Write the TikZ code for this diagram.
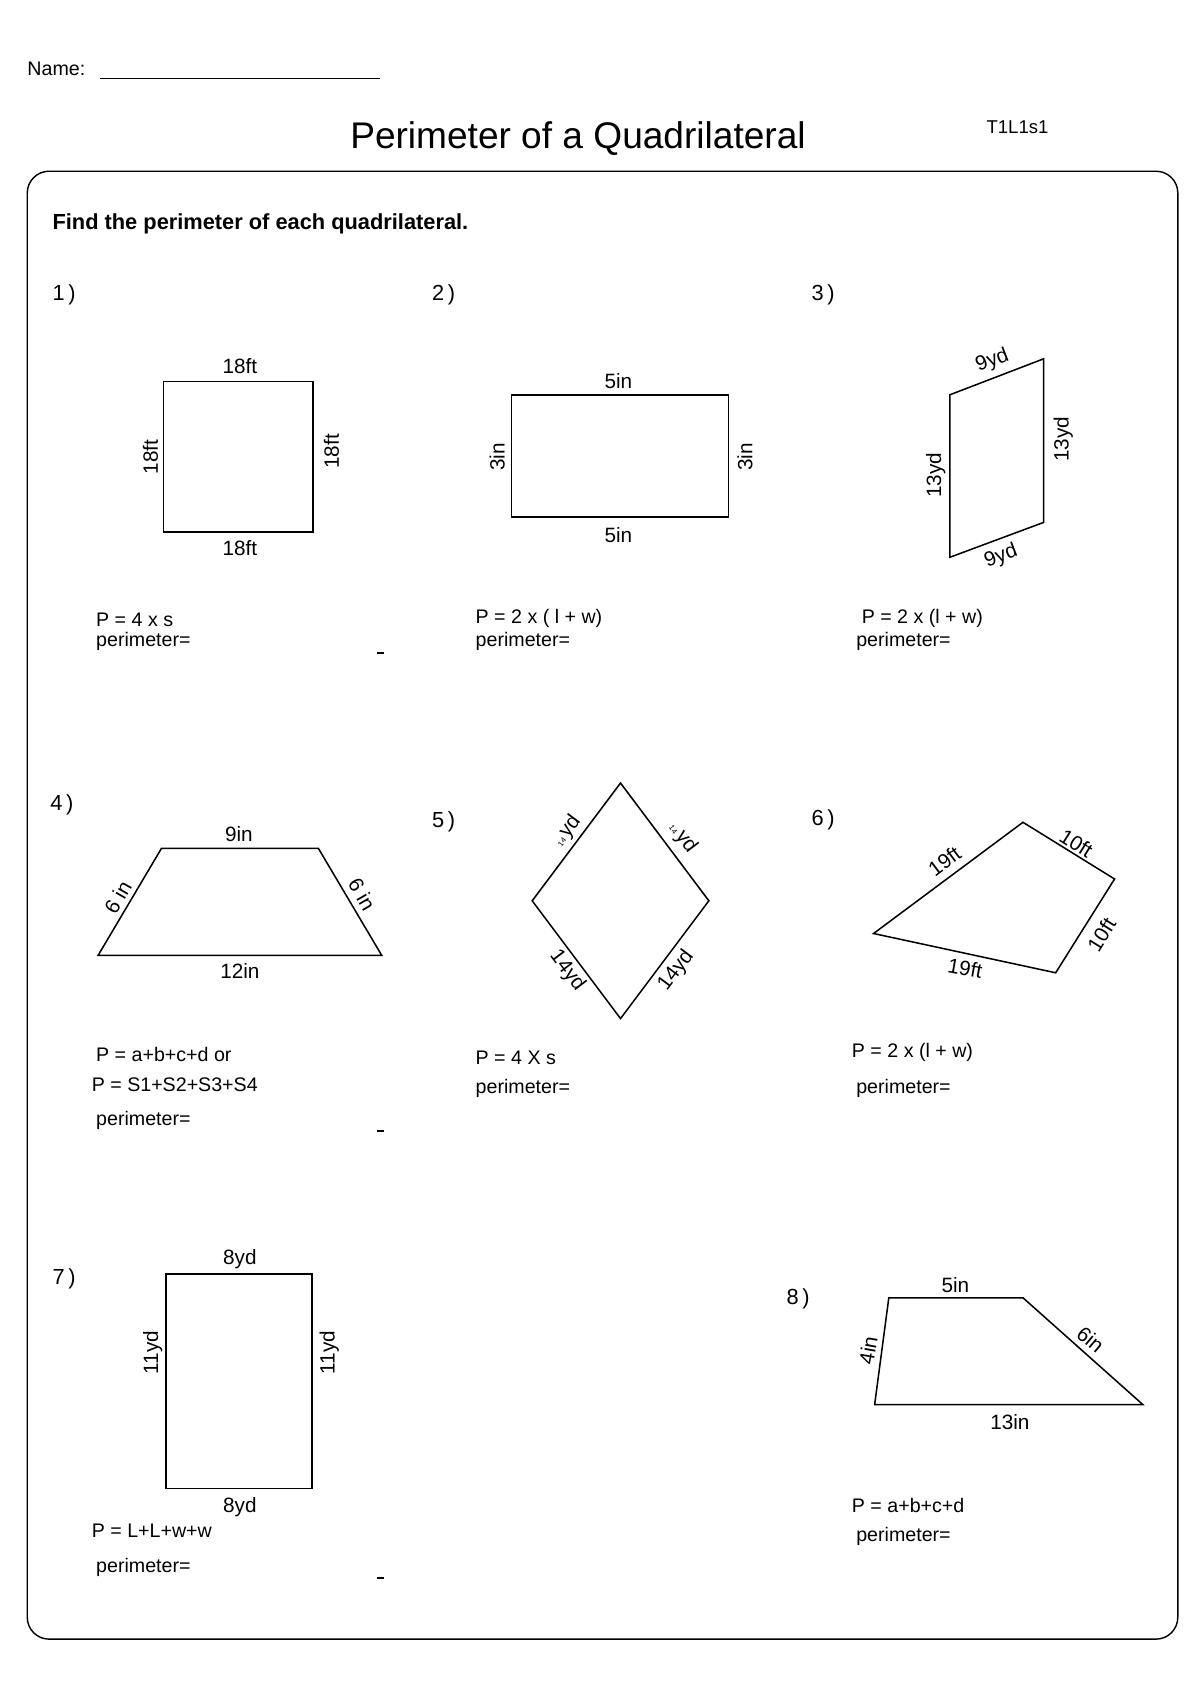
\documentclass[tikz,border=0pt]{standalone}
\usepackage{fontspec}
\setmainfont{Liberation Sans}
\begin{document}
\begin{tikzpicture}[x=1pt,y=-1pt,
 lab/.style={font=\fontsize{19}{21}\selectfont,inner sep=0pt},
 frm/.style={font=\fontsize{18}{20}\selectfont,anchor=west,inner sep=0pt},
 num/.style={font=\fontsize{20}{22}\selectfont,anchor=west,inner sep=0pt},
 shp/.style={line width=1.4pt}]
\useasboundingbox (0,0) rectangle (1100,1557);
\node[frm,anchor=west] (name) at (25,63) {Name:};
\draw[line width=1.4pt] (92,72) -- (348,72);
\node[font=\fontsize{34}{36}\selectfont] (title) at (530,127) {Perimeter of a Quadrilateral};
\node[font=\fontsize{17}{19}\selectfont] (code) at (933,117) {T1L1s1};
\draw[line width=1.3pt,rounded corners=20pt] (25,157) rectangle (1080,1503);
\node[font=\bfseries\fontsize{20}{22}\selectfont,anchor=west,inner sep=0pt] (inst) at (48,205) {Find the perimeter of each quadrilateral.};
\foreach \t/\x/\y in {1/48/270,2/396/270,3/744/270,4/46/738,5/396/754,6/744/752,7/48/1173,8/721/1191}
  \node[num] (n\t) at (\x,\y) {\t\,)};
% 1
\draw[shp] (150,350) rectangle (287,488);
\node[lab] (a1) at (220,336) {18ft};
\node[lab] (a2) at (220,503) {18ft};
\node[lab,rotate=90] (a3) at (138,419) {18ft};
\node[lab,rotate=90] (a4) at (304,414) {18ft};
% 2
\draw[shp] (469,362) rectangle (668,474);
\node[lab] (b1) at (567,349) {5in};
\node[lab] (b2) at (567,491) {5in};
\node[lab,rotate=90] (b3) at (456,419) {3in};
\node[lab,rotate=90] (b4) at (683,419) {3in};
% 3
\draw[shp] (871,362) -- (957,329) -- (957,479) -- (871,511) -- cycle;
\node[lab,rotate=21] (c1) at (910,331) {9yd};
\node[lab,rotate=21] (c2) at (918,510) {9yd};
\node[lab,rotate=90] (c3) at (858,436) {13yd};
\node[lab,rotate=90] (c4) at (975,403) {13yd};
% 4
\draw[shp] (90,876) -- (148,778) -- (292,778) -- (350,876) -- cycle;
\node[lab] (d1) at (219,765) {9in};
\node[lab] (d2) at (220,890) {12in};
\node[lab,rotate=60] (d3) at (108,823) {6 in};
\node[lab,rotate=-60] (d4) at (332,820) {6 in};
% 5
\draw[shp] (569,718) -- (650,826) -- (569,934) -- (488,826) -- cycle;
\node[lab,rotate=53] (e1) at (520,762) {\fontsize{7}{8}\selectfont 14 \fontsize{19}{21}\selectfont yd};
\node[lab,rotate=-53] (e2) at (626,768) {\fontsize{7}{8}\selectfont 14 \fontsize{19}{21}\selectfont yd};
\node[lab,rotate=-53] (e3) at (520,890) {14yd};
\node[lab,rotate=53] (e4) at (620,890) {14yd};
% 6
\draw[shp] (801,856) -- (938,754) -- (1022,806) -- (968,892) -- cycle;
\node[lab,rotate=37] (f1) at (866,790) {19ft};
\node[lab,rotate=-32] (f2) at (987,773) {10ft};
\node[lab,rotate=58] (f3) at (1010,857) {10ft};
\node[lab,rotate=-10] (f4) at (885,888) {19ft};
% 7
\draw[shp] (152,1168) rectangle (286,1365);
\node[lab] (g1) at (220,1155) {8yd};
\node[lab] (g2) at (220,1382) {8yd};
\node[lab,rotate=90] (g3) at (140,1240) {11yd};
\node[lab,rotate=90] (g4) at (302,1240) {11yd};
% 8
\draw[shp] (802,1288) -- (815,1190) -- (938,1190) -- (1048,1288) -- cycle;
\node[lab] (h1) at (876,1178) {5in};
\node[lab,rotate=-40] (h2) at (1000,1228) {6in};
\node[lab,rotate=80] (h3) at (796,1238) {4in};
\node[lab] (h4) at (926,1304) {13in};
% formulas
\node[frm] (p1) at (88,568) {P = 4 x s};
\node[frm] (q1) at (88,588) {perimeter=};
\node[frm] (p2) at (436,567) {P = 2 x ( l + w)};
\node[frm] (q2) at (436,588) {perimeter=};
\node[frm] (p3) at (790,567) {P = 2 x (l + w)};
\node[frm] (q3) at (785,588) {perimeter=};
\node[frm] (p4) at (88,967) {P = a+b+c+d or};
\node[frm] (p4b) at (84,995) {P = S1+S2+S3+S4};
\node[frm] (q4) at (88,1027) {perimeter=};
\node[frm] (p5) at (436,970) {P = 4 X s};
\node[frm] (q5) at (436,998) {perimeter=};
\node[frm] (p6) at (781,965) {P = 2 x (l + w)};
\node[frm] (q6) at (785,998) {perimeter=};
\node[frm] (p7) at (84,1404) {P = L+L+w+w};
\node[frm] (q7) at (88,1437) {perimeter=};
\node[frm] (p8) at (781,1380) {P = a+b+c+d};
\node[frm] (q8) at (785,1409) {perimeter=};
\foreach \y in {599,1037,1447} \draw[line width=1.6pt] (346,\y) -- (352,\y);
\end{tikzpicture}
\end{document}
